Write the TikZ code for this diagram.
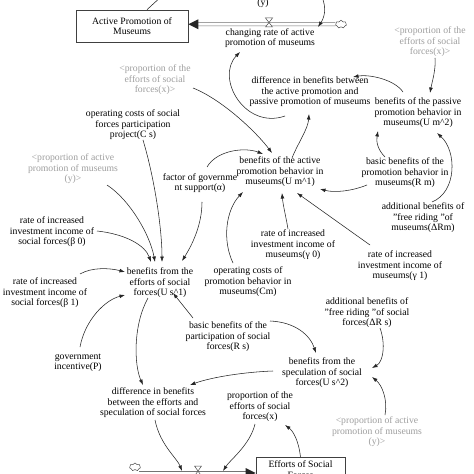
\documentclass[tikz,border=0pt]{standalone}
\usepackage{fontspec}
\setmainfont{Liberation Serif}
\usetikzlibrary{arrows.meta,calc,shapes.symbols}
\begin{document}
\begin{tikzpicture}[x=1bp,y=-1bp,
  lab/.style={align=center,inner sep=0pt,font=\fontsize{9.7bp}{10.4bp}\selectfont,text=black},
  glab/.style={lab,text=gray!75},
  conn/.style={draw=black!85,line width=0.55pt,-{Latex[length=5.5bp,width=3.8bp]}},
  plain/.style={draw=black!85,line width=0.55pt},
  stockbox/.style={lab,draw=black!75,line width=0.7pt,fill=white},
  pipe/.style={draw=black!55,line width=0.6pt},
  valve/.style={draw=black!70,line width=0.5pt,fill=white},
  cloudy/.style={cloud,cloud puffs=7,draw=black!70,line width=0.5pt,fill=white,minimum width=11bp,minimum height=8bp,inner sep=0pt}]
\useasboundingbox (0,0) rectangle (474,474);
\clip (0,0) rectangle (474,474);
\fill[white] (0,0) rectangle (474,474);

% stocks
\node[stockbox,minimum width=112bp,minimum height=32bp] (stockA) at (132,26) {Active Promotion of\\Museums};
\node[stockbox,minimum width=89bp,anchor=north,inner xsep=3bp,inner ysep=3.5bp] (stockS) at (300.5,457) {Efforts of Social\\Forces};

% clouds and valves
\node[cloudy] (cloudA) at (341,24.3) {};
\node[cloudy] (cloudS) at (135,467) {};
\coordinate (valveA) at (269,24.3);
\coordinate (valveS) at (198,473);

% top flow
\draw[pipe] ($(cloudA.west)+(0,-1.6)$) -- ($(stockA.east)+(9,-3.3)$);
\draw[pipe] ($(cloudA.west)+(0,1.6)$) -- ($(stockA.east)+(9,-0.1)$);
\fill[black!85] ($(stockA.east)+(0,-1.7)$) -- ++(10,-5) -- ++(0,10) -- cycle;
\draw[valve] ($(valveA)+(-3.5,-6.3)$) -- ++(7,0) -- ++(-7,9) -- ++(7,0) -- cycle;

% bottom flow
\draw[pipe] ($(cloudS)+(4,4.5)$) -- ($(stockS.north west)+(-9,14.5)$);
\draw[pipe] ($(cloudS)+(4,7.5)$) -- ($(stockS.north west)+(-9,17.5)$);
\fill[black!85] ($(stockS.north west)+(0,16)$) -- ++(-10,-5) -- ++(0,10) -- cycle;
\draw[valve] ($(valveS)+(-3.5,-7)$) -- ++(7,0) -- ++(-7,10) -- ++(7,0) -- cycle;

% labels
\node[lab] (topY) at (263,3) {(y)};
\node[lab] (rateA) at (270,38) {changing rate of active\\promotion of museums};
\node[glab] (xGreyT) at (155,80) {<proportion of the\\efforts of social\\forces(x)>};
\node[glab] (xGreyR) at (430,42) {<proportion of the\\efforts of social\\forces(x)>};
\node[lab] (diffA) at (310,92) {difference in benefits between\\the active promotion and\\passive promotion of museums};
\node[lab] (passiveB) at (418,113) {benefits of the passive\\promotion behavior in\\museums(U m\textasciicircum 2)};
\node[lab] (Cs) at (133,125) {operating costs of social\\forces participation\\project(C s)};
\node[glab] (yGreyL) at (73,169) {<proportion of active\\promotion of museums\\(y)>};
\node[lab] (alpha) at (200,183) {factor of governme\\nt support(α)};
\node[lab] (activeB) at (280,172) {benefits of the active\\promotion behavior in\\museums(U m\textasciicircum 1)};
\node[lab] (Rm) at (405,173) {basic benefits of the\\promotion behavior in\\museums(R m)};
\node[lab] (dRm) at (423,218) {additional benefits of\\"free riding "of\\museums(ΔRm)};
\node[lab] (b0) at (52,232) {rate of increased\\investment income of\\social forces(β 0)};
\node[lab] (g0) at (293,245) {rate of increased\\investment income of\\museums(γ 0)};
\node[lab] (g1) at (400,266) {rate of increased\\investment income of\\museums(γ 1)};
\node[lab] (Cm) at (248,282) {operating costs of\\promotion behavior in\\museums(Cm)};
\node[lab] (Us1) at (160,283) {benefits from the\\efforts of social\\forces(U s\textasciicircum 1)};
\node[lab] (b1) at (45,293) {rate of increased\\investment income of\\social forces(β 1)};
\node[lab] (dRs) at (367,313) {additional benefits of\\"free riding "of social\\forces(ΔR s)};
\node[lab] (Rs) at (228,337) {basic benefits of the\\participation of social\\forces(R s)};
\node[lab] (P) at (78,363) {government\\incentive(P)};
\node[lab] (Us2) at (322,373) {benefits from the\\speculation of social\\forces(U s\textasciicircum 2)};
\node[lab] (diffS) at (153,403) {difference in benefits\\between the efforts and\\speculation of social forces};
\node[lab] (xB) at (260,407) {proportion of the\\efforts of social\\forces(x)};
\node[glab] (yGreyB) at (377,432) {<proportion of active\\promotion of museums\\(y)>};

% connectors
\draw[conn] ($(xGreyT)+(38,8)$) .. controls +(30,12) and +(-15,-20) .. ($(activeB)+(-8,-19)$);
\draw[conn] ($(alpha)+(7,-16)$) .. controls +(10,-17) and +(-18,-7) .. ($(activeB)+(-17,-18)$);
\draw[conn] ($(activeB)+(12,-14)$) .. controls +(6,-15) and +(-1,15) .. ($(diffA)+(-1,22)$);
\draw[conn] ($(diffA)+(-25,24)$) .. controls +(-40,14) and +(-25,26) .. ($(rateA)+(-30,14)$);
\draw[conn] ($(passiveB)+(-15,-21)$) .. controls +(-8,-12) and +(17,-3) .. ($(diffA)+(43,-15)$);
\draw[conn] ($(xGreyR)+(5,16)$) .. controls +(1,12) and +(2,-11) .. ($(passiveB)+(12,-20)$);
\draw[conn] ($(Rm)+(-20,-16)$) .. controls +(-7,-7) and +(-2,11) .. ($(passiveB)+(-40,18)$);
\draw[conn] ($(dRm)+(9,-16)$) .. controls +(25,-10) and +(20,18) .. ($(passiveB)+(19,20)$);
\draw[conn] ($(Rm)+(-38,12)$) .. controls +(-15,6) and +(15,4) .. ($(activeB)+(40,17)$);
\draw[conn] ($(g0)+(-5,-16)$) .. controls +(-2,-12) and +(1,12) .. ($(activeB)+(2,21)$);
\draw[conn] ($(g1)+(-30,-21)$) -- ($(activeB)+(17,21)$);
\draw[conn] ($(Cm)+(-15,-19)$) .. controls +(-11,-23) and +(-17,18) .. ($(activeB)+(-37,20)$);
\draw[conn] ($(Cs)+(10,15)$) .. controls +(12,40) and +(0,-32) .. ($(Us1)+(2,-21)$);
\draw[conn] ($(yGreyL)+(34,16)$) .. controls +(23,15) and +(-5,-27) .. ($(Us1)+(-5,-21)$);
\draw[conn] ($(b0)+(45,-1)$) .. controls +(28,3) and +(-6,-17) .. ($(Us1)+(-9,-21)$);
\draw[conn] ($(alpha)+(2,19)$) .. controls +(0,23) and +(10,-16) .. ($(Us1)+(22,-22)$);
\draw[conn] ($(b1)+(35,-19)$) .. controls +(12,-7) and +(-15,-4) .. ($(Us1)+(-35,-11)$);
\draw[conn] ($(P)+(2,-16)$) .. controls +(5,-27) and +(-20,5) .. ($(Us1)+(-35,12)$);
\draw[conn] ($(Rs)+(-35,-19)$) -- ($(Us1)+(13,10)$);
\draw[conn] ($(Rs)+(42,-16)$) .. controls +(25,1) and +(-6,-18) .. ($(Us2)+(-6,-20)$);
\draw[conn] ($(dRs)+(13,15)$) .. controls +(6,17) and +(11,-6) .. ($(Us2)+(50,-5)$);
\draw[conn] ($(yGreyB)+(8,-17)$) .. controls +(3,-15) and +(10,8) .. ($(Us2)+(50,4)$);
\draw[conn] ($(Us2)+(-49,-2)$) .. controls +(-28,1) and +(22,-8) .. ($(diffS)+(37,-18)$);
\draw[conn] ($(Us1)+(-12,15)$) .. controls +(-15,27) and +(-9,-20) .. ($(diffS)+(-10,-18)$);
\draw[conn] ($(diffS)+(2,17)$) .. controls +(5,25) and +(-5,-13) .. ($(valveS)+(-16,-2)$);
\draw[conn] ($(xB)+(-5,17)$) .. controls +(-5,21) and +(7,-11) .. ($(valveS)+(25,-2)$);
\draw[conn] (stockS.north) .. controls +(-2,-17) and +(8,6) .. ($(xB)+(25,18)$);
\draw[plain] ($(stockA.north)+(15,0)$) -- ($(topY)+(-100,-8)$);
\draw[conn] ($(topY)+(59,-6)$) .. controls +(5,12) and +(6,-9) .. ($(rateA)+(48,-11)$);
\end{tikzpicture}
\end{document}
